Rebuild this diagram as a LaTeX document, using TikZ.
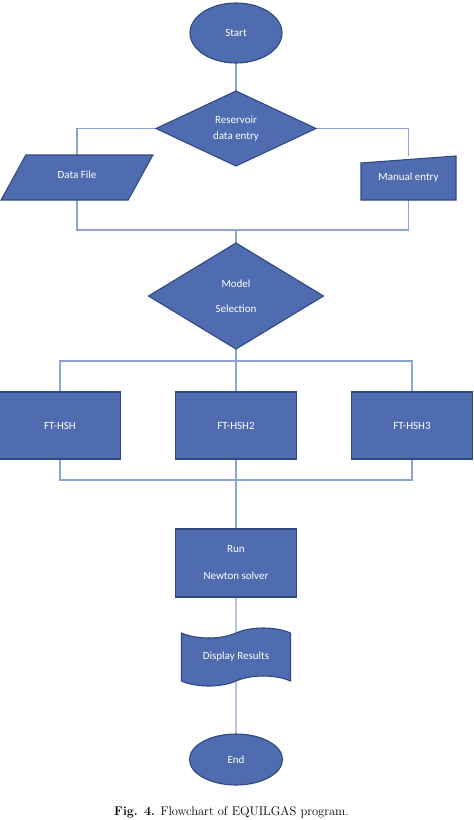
\documentclass[tikz,border=0pt]{standalone}
\usepackage{fontspec}
\setsansfont{Carlito}
\usetikzlibrary{positioning,shapes.geometric,shapes.symbols,backgrounds,calc}
\definecolor{boxfill}{HTML}{4F6CB0}
\definecolor{boxedge}{HTML}{2F4A80}
\definecolor{linkline}{HTML}{8DA3D3}
\begin{document}
\begin{tikzpicture}[x=1pt,y=1pt,node distance=30pt,outer sep=0pt,
  blockA/.style={
    draw=boxedge,
    fill=boxfill,
    line width=1.1pt,
    font={\sffamily\fontsize{11}{13.5}\selectfont\color{white}},
    align=center,
    inner sep=1pt,
%    text height=8pt,
    },
  term/.style={blockA,ellipse},
  decide/.style={blockA,diamond,aspect=2},
  proc/.style={blockA,rectangle,minimum width=121pt,minimum height=67pt},
  io/.style={blockA,trapezium,trapezium left angle=56,trapezium right angle=124,
    trapezium stretches=true,minimum width=152pt,minimum height=45pt},
  outp/.style={blockA,tape,tape bend height=10pt,minimum width=109pt,minimum height=58pt},
  link/.style={draw=linkline,line width=1.2pt},
  ]
  \useasboundingbox (0,0) rectangle (474,-820);

  \node[term, minimum width=92pt, minimum height=60pt] (start) at (236,-33) {Start};
  \node[decide, minimum width=160pt, minimum height=75pt, below=28pt of start] (resv) {Reservoir\\[2.5pt]data entry};

  \node[io] (datafile) at (77,-177.5) {\raisebox{5pt}{Data File}};
  \node[proc, minimum width=95pt, minimum height=44pt, draw=none, fill=none] (manual) at (408.5,-178) {Manual entry};

  \node[decide, minimum width=175pt, minimum height=106pt, below=77pt of resv] (model) {Model\\[12pt]Selection};

  \node[proc, below=43pt of model] (hsh2) {FT-HSH2};
  \node[proc, left=55pt of hsh2] (hsh1) {FT-HSH};
  \node[proc, right=55pt of hsh2] (hsh3) {FT-HSH3};

  \node[proc, minimum height=68pt, below=70pt of hsh2] (run) {Run\\[13.5pt]Newton solver};
  \node[outp, below=36pt of run] (disp) {Display Results};
  \node[term, minimum width=93pt, minimum height=51pt, below=53pt of disp] (end) {End};

  \node[anchor=base, font=\fontsize{12.5}{14}\selectfont] (cap) at (231.5,-815.5) {\textbf{Fig. 4.} Flowchart of EQUILGAS program.};

  \coordinate (j1) at (236,-230);
  \coordinate (j2) at (236,-361);
  \coordinate (j3) at (236,-480);

  \begin{scope}[on background layer]
  \draw[link] (start) -- (resv);
  \draw[link] (resv.west) -| (datafile.north);
  \draw[link] (resv.east) -| (manual.north);
  \draw[link] (datafile.south) |- (j1) -| (manual.south);
  \draw[link] (j1) -- (model.north);
  \draw[link] (model) -- (hsh2);
  \draw[link] (hsh1.north) |- (j2) -| (hsh3.north);
  \draw[link] (hsh1.south) |- (j3) -| (hsh3.south);
  \draw[link] (hsh2) -- (run);
  \draw[link] (run) -- (disp);
  \draw[link] (disp) -- (end);
  % manual input shape
  \filldraw[draw=boxedge, fill=boxfill, line width=1.1pt] (manual.south west) -- (manual.south east)
    -- (manual.north east) -- ($(manual.north west)+(0,-7)$) -- cycle;
  \end{scope}
\end{tikzpicture}
\end{document}
